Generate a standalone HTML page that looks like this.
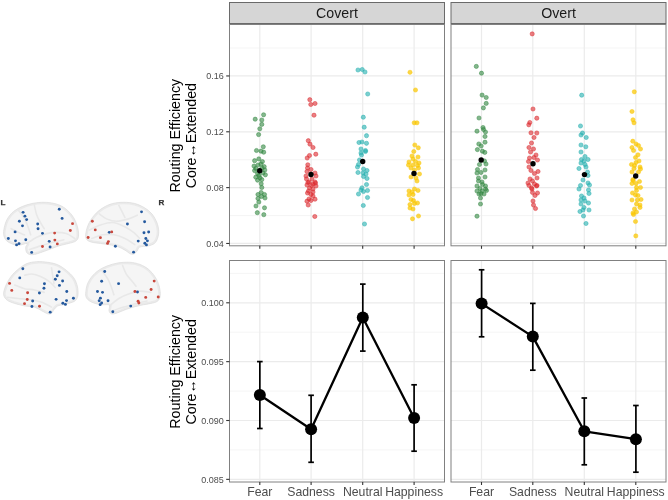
<!DOCTYPE html>
<html><head><meta charset="utf-8"><style>
html,body{margin:0;padding:0;background:#fff;width:668px;height:500px;overflow:hidden;position:relative;font-family:"Liberation Sans", sans-serif;}
</style></head><body>
<svg width="668" height="500" viewBox="0 0 668 500" style="position:absolute;left:0;top:0;will-change:transform">
<rect x="229.5" y="2.5" width="215.0" height="21.0" fill="#D6D6D6" stroke="#6a6a6a" stroke-width="1.0"/>
<text x="337.0" y="17.9" font-family='"Liberation Sans", sans-serif' font-size="14.2" fill="#1A1A1A" text-anchor="middle">Covert</text>
<rect x="229.5" y="24.5" width="215.0" height="221.3" fill="#fff"/>
<line x1="229.5" x2="444.5" y1="215.55" y2="215.55" stroke="#F2F2F2" stroke-width="0.8"/>
<line x1="229.5" x2="444.5" y1="159.71" y2="159.71" stroke="#F2F2F2" stroke-width="0.8"/>
<line x1="229.5" x2="444.5" y1="103.87" y2="103.87" stroke="#F2F2F2" stroke-width="0.8"/>
<line x1="229.5" x2="444.5" y1="48.03" y2="48.03" stroke="#F2F2F2" stroke-width="0.8"/>
<line x1="229.5" x2="444.5" y1="243.47" y2="243.47" stroke="#EBEBEB" stroke-width="1.2"/>
<line x1="229.5" x2="444.5" y1="187.63" y2="187.63" stroke="#EBEBEB" stroke-width="1.2"/>
<line x1="229.5" x2="444.5" y1="131.79" y2="131.79" stroke="#EBEBEB" stroke-width="1.2"/>
<line x1="229.5" x2="444.5" y1="75.95" y2="75.95" stroke="#EBEBEB" stroke-width="1.2"/>
<line x1="259.8" x2="259.8" y1="24.5" y2="245.8" stroke="#EBEBEB" stroke-width="1.2"/>
<line x1="311.1" x2="311.1" y1="24.5" y2="245.8" stroke="#EBEBEB" stroke-width="1.2"/>
<line x1="362.7" x2="362.7" y1="24.5" y2="245.8" stroke="#EBEBEB" stroke-width="1.2"/>
<line x1="414.1" x2="414.1" y1="24.5" y2="245.8" stroke="#EBEBEB" stroke-width="1.2"/>
<g fill="rgb(50,135,65)" fill-opacity="0.6" stroke="rgb(50,135,65)" stroke-opacity="0.6" stroke-width="0.8">
<circle cx="263.6" cy="114.8" r="2.1"/>
<circle cx="255.2" cy="119.2" r="2.1"/>
<circle cx="261.8" cy="120.0" r="2.1"/>
<circle cx="261.8" cy="124.4" r="2.1"/>
<circle cx="259.8" cy="128.8" r="2.1"/>
<circle cx="258.6" cy="134.6" r="2.1"/>
<circle cx="263.3" cy="146.8" r="2.1"/>
<circle cx="256.5" cy="150.5" r="2.1"/>
<circle cx="261" cy="151.2" r="2.1"/>
<circle cx="263.7" cy="152.2" r="2.1"/>
<circle cx="258.8" cy="158.9" r="2.1"/>
<circle cx="254.6" cy="160.7" r="2.1"/>
<circle cx="262.4" cy="161.6" r="2.1"/>
<circle cx="260.9" cy="164" r="2.1"/>
<circle cx="254" cy="166.1" r="2.1"/>
<circle cx="264.2" cy="166.7" r="2.1"/>
<circle cx="255.8" cy="168.5" r="2.1"/>
<circle cx="254.6" cy="170.6" r="2.1"/>
<circle cx="264.8" cy="170" r="2.1"/>
<circle cx="263" cy="173" r="2.1"/>
<circle cx="265.4" cy="174.8" r="2.1"/>
<circle cx="257.6" cy="173.6" r="2.1"/>
<circle cx="255.8" cy="177.2" r="2.1"/>
<circle cx="260" cy="177.8" r="2.1"/>
<circle cx="257.6" cy="180.2" r="2.1"/>
<circle cx="261.8" cy="179.6" r="2.1"/>
<circle cx="261.2" cy="183.8" r="2.1"/>
<circle cx="258" cy="165" r="2.1"/>
<circle cx="262" cy="168" r="2.1"/>
<circle cx="259" cy="175.5" r="2.1"/>
<circle cx="261.8" cy="187.5" r="2.1"/>
<circle cx="258" cy="194.5" r="2.1"/>
<circle cx="261.2" cy="192.5" r="2.1"/>
<circle cx="264.5" cy="194.5" r="2.1"/>
<circle cx="265" cy="198" r="2.1"/>
<circle cx="258" cy="198.5" r="2.1"/>
<circle cx="261.5" cy="196.5" r="2.1"/>
<circle cx="258.8" cy="202" r="2.1"/>
<circle cx="256" cy="206" r="2.1"/>
<circle cx="264.5" cy="207.8" r="2.1"/>
<circle cx="257.3" cy="212.7" r="2.1"/>
<circle cx="263.8" cy="214.7" r="2.1"/>
</g>
<g fill="rgb(220,42,46)" fill-opacity="0.6" stroke="rgb(220,42,46)" stroke-opacity="0.6" stroke-width="0.8">
<circle cx="309.8" cy="99.7" r="2.1"/>
<circle cx="310.8" cy="104.5" r="2.1"/>
<circle cx="315" cy="103.5" r="2.1"/>
<circle cx="314" cy="115.2" r="2.1"/>
<circle cx="308.3" cy="140.7" r="2.1"/>
<circle cx="310" cy="144.2" r="2.1"/>
<circle cx="313" cy="147.5" r="2.1"/>
<circle cx="315.8" cy="154.2" r="2.1"/>
<circle cx="309.5" cy="155.5" r="2.1"/>
<circle cx="307.2" cy="158" r="2.1"/>
<circle cx="307.8" cy="164.8" r="2.1"/>
<circle cx="307.5" cy="168" r="2.1"/>
<circle cx="311" cy="169.5" r="2.1"/>
<circle cx="307" cy="171.5" r="2.1"/>
<circle cx="315" cy="173" r="2.1"/>
<circle cx="306" cy="176" r="2.1"/>
<circle cx="316" cy="176" r="2.1"/>
<circle cx="306.5" cy="179" r="2.1"/>
<circle cx="312" cy="179" r="2.1"/>
<circle cx="309" cy="182" r="2.1"/>
<circle cx="315" cy="182" r="2.1"/>
<circle cx="313" cy="184" r="2.1"/>
<circle cx="308" cy="182.5" r="2.1"/>
<circle cx="315.5" cy="183" r="2.1"/>
<circle cx="307" cy="185" r="2.1"/>
<circle cx="311.5" cy="185.5" r="2.1"/>
<circle cx="316" cy="186" r="2.1"/>
<circle cx="309.5" cy="188" r="2.1"/>
<circle cx="313" cy="189" r="2.1"/>
<circle cx="308.5" cy="191" r="2.1"/>
<circle cx="313" cy="192" r="2.1"/>
<circle cx="307.5" cy="193" r="2.1"/>
<circle cx="311" cy="194.5" r="2.1"/>
<circle cx="313" cy="196" r="2.1"/>
<circle cx="309" cy="199" r="2.1"/>
<circle cx="315" cy="199.2" r="2.1"/>
<circle cx="307" cy="201.2" r="2.1"/>
<circle cx="311" cy="200.5" r="2.1"/>
<circle cx="308.2" cy="205" r="2.1"/>
<circle cx="314.8" cy="216.5" r="2.1"/>
</g>
<g fill="rgb(35,175,175)" fill-opacity="0.6" stroke="rgb(35,175,175)" stroke-opacity="0.6" stroke-width="0.8">
<circle cx="358" cy="70" r="2.1"/>
<circle cx="362.2" cy="69.5" r="2.1"/>
<circle cx="365" cy="72" r="2.1"/>
<circle cx="367.7" cy="94" r="2.1"/>
<circle cx="363.3" cy="117.2" r="2.1"/>
<circle cx="364.2" cy="127.2" r="2.1"/>
<circle cx="366.5" cy="135.7" r="2.1"/>
<circle cx="359" cy="142.5" r="2.1"/>
<circle cx="362" cy="142" r="2.1"/>
<circle cx="366.5" cy="143.3" r="2.1"/>
<circle cx="361" cy="149" r="2.1"/>
<circle cx="365.5" cy="150.5" r="2.1"/>
<circle cx="361" cy="153" r="2.1"/>
<circle cx="365.5" cy="151.5" r="2.1"/>
<circle cx="361.5" cy="155" r="2.1"/>
<circle cx="359.5" cy="160" r="2.1"/>
<circle cx="358.5" cy="164.5" r="2.1"/>
<circle cx="357.5" cy="167" r="2.1"/>
<circle cx="363.5" cy="169" r="2.1"/>
<circle cx="367" cy="170.5" r="2.1"/>
<circle cx="358" cy="172.5" r="2.1"/>
<circle cx="363" cy="173" r="2.1"/>
<circle cx="366" cy="174" r="2.1"/>
<circle cx="363.5" cy="176.5" r="2.1"/>
<circle cx="367" cy="178.5" r="2.1"/>
<circle cx="366.5" cy="184.5" r="2.1"/>
<circle cx="362" cy="187.8" r="2.1"/>
<circle cx="361" cy="190" r="2.1"/>
<circle cx="367.5" cy="190.5" r="2.1"/>
<circle cx="363.5" cy="191.5" r="2.1"/>
<circle cx="358.5" cy="194" r="2.1"/>
<circle cx="367.5" cy="197.5" r="2.1"/>
<circle cx="363.3" cy="205.5" r="2.1"/>
<circle cx="364.5" cy="224" r="2.1"/>
</g>
<g fill="rgb(250,198,0)" fill-opacity="0.72" stroke="rgb(250,198,0)" stroke-opacity="0.6" stroke-width="0.8">
<circle cx="410" cy="72.3" r="2.1"/>
<circle cx="415.5" cy="90" r="2.1"/>
<circle cx="414.2" cy="122.8" r="2.1"/>
<circle cx="417" cy="122.8" r="2.1"/>
<circle cx="414.8" cy="145" r="2.1"/>
<circle cx="418.3" cy="147.8" r="2.1"/>
<circle cx="413.8" cy="151.5" r="2.1"/>
<circle cx="412" cy="156" r="2.1"/>
<circle cx="418" cy="157" r="2.1"/>
<circle cx="413" cy="159" r="2.1"/>
<circle cx="409" cy="162" r="2.1"/>
<circle cx="415.5" cy="161.5" r="2.1"/>
<circle cx="419" cy="163" r="2.1"/>
<circle cx="408.5" cy="165" r="2.1"/>
<circle cx="413" cy="165" r="2.1"/>
<circle cx="417.5" cy="165.5" r="2.1"/>
<circle cx="411" cy="168" r="2.1"/>
<circle cx="418.5" cy="168" r="2.1"/>
<circle cx="414.5" cy="170" r="2.1"/>
<circle cx="419.5" cy="174" r="2.1"/>
<circle cx="411" cy="177" r="2.1"/>
<circle cx="416" cy="178" r="2.1"/>
<circle cx="417" cy="181" r="2.1"/>
<circle cx="414.5" cy="189" r="2.1"/>
<circle cx="409" cy="191" r="2.1"/>
<circle cx="418" cy="190.5" r="2.1"/>
<circle cx="412" cy="192" r="2.1"/>
<circle cx="409" cy="195" r="2.1"/>
<circle cx="413" cy="194.5" r="2.1"/>
<circle cx="411" cy="199.5" r="2.1"/>
<circle cx="413.5" cy="200.5" r="2.1"/>
<circle cx="417.5" cy="203" r="2.1"/>
<circle cx="414.5" cy="203.5" r="2.1"/>
<circle cx="410" cy="204.5" r="2.1"/>
<circle cx="410" cy="208" r="2.1"/>
<circle cx="413" cy="209" r="2.1"/>
<circle cx="418.5" cy="216" r="2.1"/>
<circle cx="412.5" cy="218.8" r="2.1"/>
</g>
<g fill="#000">
<circle cx="259.7" cy="170.7" r="2.7"/>
<circle cx="311" cy="174.5" r="2.7"/>
<circle cx="362.7" cy="161.5" r="2.7"/>
<circle cx="414" cy="173.5" r="2.7"/>
</g>
<rect x="229.5" y="24.5" width="215.0" height="221.3" fill="none" stroke="#808080" stroke-width="1.0"/>
<rect x="229.5" y="260.5" width="215.0" height="221.5" fill="#fff"/>
<line x1="229.5" x2="444.5" y1="449.93" y2="449.93" stroke="#F2F2F2" stroke-width="0.8"/>
<line x1="229.5" x2="444.5" y1="391.08" y2="391.08" stroke="#F2F2F2" stroke-width="0.8"/>
<line x1="229.5" x2="444.5" y1="332.23" y2="332.23" stroke="#F2F2F2" stroke-width="0.8"/>
<line x1="229.5" x2="444.5" y1="273.38" y2="273.38" stroke="#F2F2F2" stroke-width="0.8"/>
<line x1="229.5" x2="444.5" y1="479.35" y2="479.35" stroke="#EBEBEB" stroke-width="1.2"/>
<line x1="229.5" x2="444.5" y1="420.50" y2="420.50" stroke="#EBEBEB" stroke-width="1.2"/>
<line x1="229.5" x2="444.5" y1="361.65" y2="361.65" stroke="#EBEBEB" stroke-width="1.2"/>
<line x1="229.5" x2="444.5" y1="302.80" y2="302.80" stroke="#EBEBEB" stroke-width="1.2"/>
<line x1="259.8" x2="259.8" y1="260.5" y2="482.0" stroke="#EBEBEB" stroke-width="1.2"/>
<line x1="311.1" x2="311.1" y1="260.5" y2="482.0" stroke="#EBEBEB" stroke-width="1.2"/>
<line x1="362.7" x2="362.7" y1="260.5" y2="482.0" stroke="#EBEBEB" stroke-width="1.2"/>
<line x1="414.1" x2="414.1" y1="260.5" y2="482.0" stroke="#EBEBEB" stroke-width="1.2"/>
<g stroke="#000" fill="none" stroke-width="1.7">
<line x1="259.85" x2="259.85" y1="361.6" y2="428.5"/>
<line x1="257.05" x2="262.65000000000003" y1="361.6" y2="361.6"/>
<line x1="257.05" x2="262.65000000000003" y1="428.5" y2="428.5"/>
<line x1="311.1" x2="311.1" y1="395.3" y2="462.3"/>
<line x1="308.3" x2="313.90000000000003" y1="395.3" y2="395.3"/>
<line x1="308.3" x2="313.90000000000003" y1="462.3" y2="462.3"/>
<line x1="362.8" x2="362.8" y1="284.1" y2="351.1"/>
<line x1="360.0" x2="365.6" y1="284.1" y2="284.1"/>
<line x1="360.0" x2="365.6" y1="351.1" y2="351.1"/>
<line x1="414.1" x2="414.1" y1="384.8" y2="451.2"/>
<line x1="411.3" x2="416.90000000000003" y1="384.8" y2="384.8"/>
<line x1="411.3" x2="416.90000000000003" y1="451.2" y2="451.2"/>
</g>
<polyline points="259.85,395.0 311.1,429.3 362.8,317.4 414.1,418.1" fill="none" stroke="#000" stroke-width="2.3" stroke-linejoin="round"/>
<g fill="#000">
<circle cx="259.85" cy="395.0" r="6"/>
<circle cx="311.1" cy="429.3" r="6"/>
<circle cx="362.8" cy="317.4" r="6"/>
<circle cx="414.1" cy="418.1" r="6"/>
</g>
<rect x="229.5" y="260.5" width="215.0" height="221.5" fill="none" stroke="#808080" stroke-width="1.0"/>
<line x1="259.8" x2="259.8" y1="245.8" y2="248.8" stroke="#333" stroke-width="1.1"/>
<line x1="259.8" x2="259.8" y1="482.0" y2="485.0" stroke="#333" stroke-width="1.1"/>
<line x1="311.1" x2="311.1" y1="245.8" y2="248.8" stroke="#333" stroke-width="1.1"/>
<line x1="311.1" x2="311.1" y1="482.0" y2="485.0" stroke="#333" stroke-width="1.1"/>
<line x1="362.7" x2="362.7" y1="245.8" y2="248.8" stroke="#333" stroke-width="1.1"/>
<line x1="362.7" x2="362.7" y1="482.0" y2="485.0" stroke="#333" stroke-width="1.1"/>
<line x1="414.1" x2="414.1" y1="245.8" y2="248.8" stroke="#333" stroke-width="1.1"/>
<line x1="414.1" x2="414.1" y1="482.0" y2="485.0" stroke="#333" stroke-width="1.1"/>
<text x="259.8" y="495.6" font-family='"Liberation Sans", sans-serif' font-size="12.25" fill="#4D4D4D" text-anchor="middle">Fear</text>
<text x="311.1" y="495.6" font-family='"Liberation Sans", sans-serif' font-size="12.25" fill="#4D4D4D" text-anchor="middle">Sadness</text>
<text x="362.7" y="495.6" font-family='"Liberation Sans", sans-serif' font-size="12.25" fill="#4D4D4D" text-anchor="middle">Neutral</text>
<text x="414.1" y="495.6" font-family='"Liberation Sans", sans-serif' font-size="12.25" fill="#4D4D4D" text-anchor="middle">Happiness</text>
<rect x="451.0" y="2.5" width="215.0" height="21.0" fill="#D6D6D6" stroke="#6a6a6a" stroke-width="1.0"/>
<text x="558.5" y="17.9" font-family='"Liberation Sans", sans-serif' font-size="14.2" fill="#1A1A1A" text-anchor="middle">Overt</text>
<rect x="451.0" y="24.5" width="215.0" height="221.3" fill="#fff"/>
<line x1="451.0" x2="666.0" y1="215.55" y2="215.55" stroke="#F2F2F2" stroke-width="0.8"/>
<line x1="451.0" x2="666.0" y1="159.71" y2="159.71" stroke="#F2F2F2" stroke-width="0.8"/>
<line x1="451.0" x2="666.0" y1="103.87" y2="103.87" stroke="#F2F2F2" stroke-width="0.8"/>
<line x1="451.0" x2="666.0" y1="48.03" y2="48.03" stroke="#F2F2F2" stroke-width="0.8"/>
<line x1="451.0" x2="666.0" y1="243.47" y2="243.47" stroke="#EBEBEB" stroke-width="1.2"/>
<line x1="451.0" x2="666.0" y1="187.63" y2="187.63" stroke="#EBEBEB" stroke-width="1.2"/>
<line x1="451.0" x2="666.0" y1="131.79" y2="131.79" stroke="#EBEBEB" stroke-width="1.2"/>
<line x1="451.0" x2="666.0" y1="75.95" y2="75.95" stroke="#EBEBEB" stroke-width="1.2"/>
<line x1="481.5" x2="481.5" y1="24.5" y2="245.8" stroke="#EBEBEB" stroke-width="1.2"/>
<line x1="532.8" x2="532.8" y1="24.5" y2="245.8" stroke="#EBEBEB" stroke-width="1.2"/>
<line x1="584.3" x2="584.3" y1="24.5" y2="245.8" stroke="#EBEBEB" stroke-width="1.2"/>
<line x1="635.8" x2="635.8" y1="24.5" y2="245.8" stroke="#EBEBEB" stroke-width="1.2"/>
<g fill="rgb(50,135,65)" fill-opacity="0.6" stroke="rgb(50,135,65)" stroke-opacity="0.6" stroke-width="0.8">
<circle cx="476.3" cy="66.4" r="2.1"/>
<circle cx="481.5" cy="73.2" r="2.1"/>
<circle cx="482.1" cy="95.1" r="2.1"/>
<circle cx="486.2" cy="97.5" r="2.1"/>
<circle cx="486.2" cy="103.4" r="2.1"/>
<circle cx="483.4" cy="107.9" r="2.1"/>
<circle cx="479" cy="118" r="2.1"/>
<circle cx="483" cy="127.5" r="2.1"/>
<circle cx="483.5" cy="129.5" r="2.1"/>
<circle cx="477" cy="131.2" r="2.1"/>
<circle cx="485.5" cy="132" r="2.1"/>
<circle cx="485" cy="136.5" r="2.1"/>
<circle cx="485" cy="142.2" r="2.1"/>
<circle cx="478.8" cy="144" r="2.1"/>
<circle cx="481.2" cy="146" r="2.1"/>
<circle cx="477.4" cy="149.6" r="2.1"/>
<circle cx="482.4" cy="151.2" r="2.1"/>
<circle cx="484.8" cy="152.4" r="2.1"/>
<circle cx="484.5" cy="161" r="2.1"/>
<circle cx="479.5" cy="164.5" r="2.1"/>
<circle cx="486" cy="164" r="2.1"/>
<circle cx="477.5" cy="169.5" r="2.1"/>
<circle cx="485" cy="170" r="2.1"/>
<circle cx="481" cy="172.5" r="2.1"/>
<circle cx="477" cy="173" r="2.1"/>
<circle cx="485" cy="177" r="2.1"/>
<circle cx="478.5" cy="178" r="2.1"/>
<circle cx="478.5" cy="181" r="2.1"/>
<circle cx="482" cy="182" r="2.1"/>
<circle cx="482.5" cy="184.5" r="2.1"/>
<circle cx="477" cy="186" r="2.1"/>
<circle cx="485.5" cy="186" r="2.1"/>
<circle cx="480" cy="188.5" r="2.1"/>
<circle cx="485.5" cy="189" r="2.1"/>
<circle cx="477" cy="191" r="2.1"/>
<circle cx="482" cy="191" r="2.1"/>
<circle cx="486.5" cy="190.5" r="2.1"/>
<circle cx="479" cy="194" r="2.1"/>
<circle cx="484" cy="194" r="2.1"/>
<circle cx="481" cy="193.5" r="2.1"/>
<circle cx="480.5" cy="198" r="2.1"/>
<circle cx="480.5" cy="204" r="2.1"/>
<circle cx="477" cy="216.2" r="2.1"/>
</g>
<g fill="rgb(220,42,46)" fill-opacity="0.6" stroke="rgb(220,42,46)" stroke-opacity="0.6" stroke-width="0.8">
<circle cx="532.2" cy="33.9" r="2.1"/>
<circle cx="533" cy="109" r="2.1"/>
<circle cx="536.8" cy="118.2" r="2.1"/>
<circle cx="529.8" cy="122.5" r="2.1"/>
<circle cx="528.8" cy="124.8" r="2.1"/>
<circle cx="531" cy="132.8" r="2.1"/>
<circle cx="536.8" cy="133" r="2.1"/>
<circle cx="534" cy="137.5" r="2.1"/>
<circle cx="531.5" cy="143" r="2.1"/>
<circle cx="529" cy="147.5" r="2.1"/>
<circle cx="533.5" cy="149" r="2.1"/>
<circle cx="530.5" cy="152" r="2.1"/>
<circle cx="536" cy="155" r="2.1"/>
<circle cx="529.5" cy="158" r="2.1"/>
<circle cx="534" cy="157.5" r="2.1"/>
<circle cx="537.5" cy="160" r="2.1"/>
<circle cx="528.5" cy="161.5" r="2.1"/>
<circle cx="529" cy="167" r="2.1"/>
<circle cx="531" cy="170.5" r="2.1"/>
<circle cx="538" cy="171.5" r="2.1"/>
<circle cx="534.5" cy="173.5" r="2.1"/>
<circle cx="537" cy="178" r="2.1"/>
<circle cx="530" cy="179" r="2.1"/>
<circle cx="532.5" cy="181" r="2.1"/>
<circle cx="528" cy="183" r="2.1"/>
<circle cx="534.5" cy="184" r="2.1"/>
<circle cx="537" cy="185.5" r="2.1"/>
<circle cx="531.5" cy="188" r="2.1"/>
<circle cx="529" cy="185.5" r="2.1"/>
<circle cx="536.5" cy="186" r="2.1"/>
<circle cx="532" cy="189" r="2.1"/>
<circle cx="532.5" cy="192.5" r="2.1"/>
<circle cx="537.5" cy="193" r="2.1"/>
<circle cx="535" cy="195.5" r="2.1"/>
<circle cx="533" cy="201" r="2.1"/>
<circle cx="533.5" cy="205" r="2.1"/>
<circle cx="535.5" cy="208.5" r="2.1"/>
</g>
<g fill="rgb(35,175,175)" fill-opacity="0.6" stroke="rgb(35,175,175)" stroke-opacity="0.6" stroke-width="0.8">
<circle cx="581.7" cy="95.2" r="2.1"/>
<circle cx="580.5" cy="126" r="2.1"/>
<circle cx="582.5" cy="133" r="2.1"/>
<circle cx="581" cy="135" r="2.1"/>
<circle cx="586.2" cy="137.5" r="2.1"/>
<circle cx="581" cy="145" r="2.1"/>
<circle cx="585.8" cy="146.8" r="2.1"/>
<circle cx="581" cy="152" r="2.1"/>
<circle cx="585" cy="156.5" r="2.1"/>
<circle cx="581.5" cy="159.5" r="2.1"/>
<circle cx="588" cy="159.5" r="2.1"/>
<circle cx="584" cy="161" r="2.1"/>
<circle cx="581" cy="163" r="2.1"/>
<circle cx="585" cy="164.5" r="2.1"/>
<circle cx="586" cy="167" r="2.1"/>
<circle cx="579" cy="168.5" r="2.1"/>
<circle cx="587.5" cy="172" r="2.1"/>
<circle cx="588" cy="175.5" r="2.1"/>
<circle cx="583" cy="180" r="2.1"/>
<circle cx="588" cy="183" r="2.1"/>
<circle cx="589.5" cy="185" r="2.1"/>
<circle cx="580.5" cy="185.5" r="2.1"/>
<circle cx="579" cy="189" r="2.1"/>
<circle cx="588.5" cy="190" r="2.1"/>
<circle cx="589" cy="193.5" r="2.1"/>
<circle cx="581.5" cy="196" r="2.1"/>
<circle cx="584" cy="198" r="2.1"/>
<circle cx="581" cy="200" r="2.1"/>
<circle cx="585" cy="201" r="2.1"/>
<circle cx="588.5" cy="203" r="2.1"/>
<circle cx="581" cy="204" r="2.1"/>
<circle cx="584" cy="207.5" r="2.1"/>
<circle cx="580" cy="211.5" r="2.1"/>
<circle cx="583" cy="210" r="2.1"/>
<circle cx="589" cy="210" r="2.1"/>
<circle cx="583.5" cy="216" r="2.1"/>
<circle cx="586" cy="223.5" r="2.1"/>
</g>
<g fill="rgb(250,198,0)" fill-opacity="0.72" stroke="rgb(250,198,0)" stroke-opacity="0.6" stroke-width="0.8">
<circle cx="634.3" cy="91.8" r="2.1"/>
<circle cx="632" cy="111.5" r="2.1"/>
<circle cx="633" cy="119.8" r="2.1"/>
<circle cx="634" cy="122.8" r="2.1"/>
<circle cx="632.8" cy="141.2" r="2.1"/>
<circle cx="636" cy="144" r="2.1"/>
<circle cx="638.5" cy="145.5" r="2.1"/>
<circle cx="632" cy="147.5" r="2.1"/>
<circle cx="640.5" cy="149" r="2.1"/>
<circle cx="633.5" cy="150.5" r="2.1"/>
<circle cx="638" cy="154.8" r="2.1"/>
<circle cx="635.5" cy="157.5" r="2.1"/>
<circle cx="639" cy="161" r="2.1"/>
<circle cx="636" cy="162.5" r="2.1"/>
<circle cx="631.5" cy="164.5" r="2.1"/>
<circle cx="634.5" cy="165.5" r="2.1"/>
<circle cx="640" cy="167" r="2.1"/>
<circle cx="634" cy="168.5" r="2.1"/>
<circle cx="640.5" cy="169" r="2.1"/>
<circle cx="632" cy="172" r="2.1"/>
<circle cx="638.5" cy="172" r="2.1"/>
<circle cx="633" cy="179.5" r="2.1"/>
<circle cx="633" cy="180.5" r="2.1"/>
<circle cx="639.5" cy="181.5" r="2.1"/>
<circle cx="632" cy="183.5" r="2.1"/>
<circle cx="636" cy="183.5" r="2.1"/>
<circle cx="636.5" cy="187.5" r="2.1"/>
<circle cx="640.5" cy="187.5" r="2.1"/>
<circle cx="636.5" cy="190.5" r="2.1"/>
<circle cx="632.5" cy="193" r="2.1"/>
<circle cx="635.5" cy="195" r="2.1"/>
<circle cx="638" cy="195.5" r="2.1"/>
<circle cx="632" cy="200" r="2.1"/>
<circle cx="637.5" cy="200" r="2.1"/>
<circle cx="641" cy="199.5" r="2.1"/>
<circle cx="636.5" cy="204" r="2.1"/>
<circle cx="640" cy="205" r="2.1"/>
<circle cx="640" cy="207.5" r="2.1"/>
<circle cx="634.5" cy="209" r="2.1"/>
<circle cx="633" cy="213" r="2.1"/>
<circle cx="636.5" cy="212" r="2.1"/>
<circle cx="633.5" cy="214.5" r="2.1"/>
<circle cx="635.5" cy="221.5" r="2.1"/>
<circle cx="635.8" cy="235.9" r="2.1"/>
</g>
<g fill="#000">
<circle cx="481.2" cy="160" r="2.7"/>
<circle cx="533" cy="163.8" r="2.7"/>
<circle cx="584.5" cy="174.6" r="2.7"/>
<circle cx="635.7" cy="176" r="2.7"/>
</g>
<rect x="451.0" y="24.5" width="215.0" height="221.3" fill="none" stroke="#808080" stroke-width="1.0"/>
<rect x="451.0" y="260.5" width="215.0" height="221.5" fill="#fff"/>
<line x1="451.0" x2="666.0" y1="449.93" y2="449.93" stroke="#F2F2F2" stroke-width="0.8"/>
<line x1="451.0" x2="666.0" y1="391.08" y2="391.08" stroke="#F2F2F2" stroke-width="0.8"/>
<line x1="451.0" x2="666.0" y1="332.23" y2="332.23" stroke="#F2F2F2" stroke-width="0.8"/>
<line x1="451.0" x2="666.0" y1="273.38" y2="273.38" stroke="#F2F2F2" stroke-width="0.8"/>
<line x1="451.0" x2="666.0" y1="479.35" y2="479.35" stroke="#EBEBEB" stroke-width="1.2"/>
<line x1="451.0" x2="666.0" y1="420.50" y2="420.50" stroke="#EBEBEB" stroke-width="1.2"/>
<line x1="451.0" x2="666.0" y1="361.65" y2="361.65" stroke="#EBEBEB" stroke-width="1.2"/>
<line x1="451.0" x2="666.0" y1="302.80" y2="302.80" stroke="#EBEBEB" stroke-width="1.2"/>
<line x1="481.5" x2="481.5" y1="260.5" y2="482.0" stroke="#EBEBEB" stroke-width="1.2"/>
<line x1="532.8" x2="532.8" y1="260.5" y2="482.0" stroke="#EBEBEB" stroke-width="1.2"/>
<line x1="584.3" x2="584.3" y1="260.5" y2="482.0" stroke="#EBEBEB" stroke-width="1.2"/>
<line x1="635.8" x2="635.8" y1="260.5" y2="482.0" stroke="#EBEBEB" stroke-width="1.2"/>
<g stroke="#000" fill="none" stroke-width="1.7">
<line x1="481.6" x2="481.6" y1="269.8" y2="336.8"/>
<line x1="478.8" x2="484.40000000000003" y1="269.8" y2="269.8"/>
<line x1="478.8" x2="484.40000000000003" y1="336.8" y2="336.8"/>
<line x1="532.8" x2="532.8" y1="303.4" y2="370.2"/>
<line x1="530.0" x2="535.5999999999999" y1="303.4" y2="303.4"/>
<line x1="530.0" x2="535.5999999999999" y1="370.2" y2="370.2"/>
<line x1="584.3" x2="584.3" y1="398.0" y2="464.8"/>
<line x1="581.5" x2="587.0999999999999" y1="398.0" y2="398.0"/>
<line x1="581.5" x2="587.0999999999999" y1="464.8" y2="464.8"/>
<line x1="635.9" x2="635.9" y1="405.5" y2="472.2"/>
<line x1="633.1" x2="638.6999999999999" y1="405.5" y2="405.5"/>
<line x1="633.1" x2="638.6999999999999" y1="472.2" y2="472.2"/>
</g>
<polyline points="481.6,303.6 532.8,336.6 584.3,431.3 635.9,439.2" fill="none" stroke="#000" stroke-width="2.3" stroke-linejoin="round"/>
<g fill="#000">
<circle cx="481.6" cy="303.6" r="6"/>
<circle cx="532.8" cy="336.6" r="6"/>
<circle cx="584.3" cy="431.3" r="6"/>
<circle cx="635.9" cy="439.2" r="6"/>
</g>
<rect x="451.0" y="260.5" width="215.0" height="221.5" fill="none" stroke="#808080" stroke-width="1.0"/>
<line x1="481.5" x2="481.5" y1="245.8" y2="248.8" stroke="#333" stroke-width="1.1"/>
<line x1="481.5" x2="481.5" y1="482.0" y2="485.0" stroke="#333" stroke-width="1.1"/>
<line x1="532.8" x2="532.8" y1="245.8" y2="248.8" stroke="#333" stroke-width="1.1"/>
<line x1="532.8" x2="532.8" y1="482.0" y2="485.0" stroke="#333" stroke-width="1.1"/>
<line x1="584.3" x2="584.3" y1="245.8" y2="248.8" stroke="#333" stroke-width="1.1"/>
<line x1="584.3" x2="584.3" y1="482.0" y2="485.0" stroke="#333" stroke-width="1.1"/>
<line x1="635.8" x2="635.8" y1="245.8" y2="248.8" stroke="#333" stroke-width="1.1"/>
<line x1="635.8" x2="635.8" y1="482.0" y2="485.0" stroke="#333" stroke-width="1.1"/>
<text x="481.5" y="495.6" font-family='"Liberation Sans", sans-serif' font-size="12.25" fill="#4D4D4D" text-anchor="middle">Fear</text>
<text x="532.8" y="495.6" font-family='"Liberation Sans", sans-serif' font-size="12.25" fill="#4D4D4D" text-anchor="middle">Sadness</text>
<text x="584.3" y="495.6" font-family='"Liberation Sans", sans-serif' font-size="12.25" fill="#4D4D4D" text-anchor="middle">Neutral</text>
<text x="635.8" y="495.6" font-family='"Liberation Sans", sans-serif' font-size="12.25" fill="#4D4D4D" text-anchor="middle">Happiness</text>
<line x1="226.2" x2="229.5" y1="243.47" y2="243.47" stroke="#333" stroke-width="1.1"/>
<text x="223.8" y="246.67" font-family='"Liberation Sans", sans-serif' font-size="9" fill="#4D4D4D" text-anchor="end">0.04</text>
<line x1="226.2" x2="229.5" y1="187.63" y2="187.63" stroke="#333" stroke-width="1.1"/>
<text x="223.8" y="190.83" font-family='"Liberation Sans", sans-serif' font-size="9" fill="#4D4D4D" text-anchor="end">0.08</text>
<line x1="226.2" x2="229.5" y1="131.79" y2="131.79" stroke="#333" stroke-width="1.1"/>
<text x="223.8" y="134.99" font-family='"Liberation Sans", sans-serif' font-size="9" fill="#4D4D4D" text-anchor="end">0.12</text>
<line x1="226.2" x2="229.5" y1="75.95" y2="75.95" stroke="#333" stroke-width="1.1"/>
<text x="223.8" y="79.15" font-family='"Liberation Sans", sans-serif' font-size="9" fill="#4D4D4D" text-anchor="end">0.16</text>
<line x1="226.2" x2="229.5" y1="479.35" y2="479.35" stroke="#333" stroke-width="1.1"/>
<text x="223.8" y="482.55" font-family='"Liberation Sans", sans-serif' font-size="9" fill="#4D4D4D" text-anchor="end">0.085</text>
<line x1="226.2" x2="229.5" y1="420.50" y2="420.50" stroke="#333" stroke-width="1.1"/>
<text x="223.8" y="423.70" font-family='"Liberation Sans", sans-serif' font-size="9" fill="#4D4D4D" text-anchor="end">0.090</text>
<line x1="226.2" x2="229.5" y1="361.65" y2="361.65" stroke="#333" stroke-width="1.1"/>
<text x="223.8" y="364.85" font-family='"Liberation Sans", sans-serif' font-size="9" fill="#4D4D4D" text-anchor="end">0.095</text>
<line x1="226.2" x2="229.5" y1="302.80" y2="302.80" stroke="#333" stroke-width="1.1"/>
<text x="223.8" y="306.00" font-family='"Liberation Sans", sans-serif' font-size="9" fill="#4D4D4D" text-anchor="end">0.100</text>
<g font-family='"Liberation Sans", sans-serif' font-size="14.25" fill="#000" text-anchor="middle">
<text transform="translate(180.1,135.7) rotate(-90)">Routing Efficiency</text>
<text transform="translate(195.5,135.7) rotate(-90)">Core<tspan>↔</tspan>Extended</text>
</g>
<g font-family='"Liberation Sans", sans-serif' font-size="14.25" fill="#000" text-anchor="middle">
<text transform="translate(180.1,371.8) rotate(-90)">Routing Efficiency</text>
<text transform="translate(195.5,371.8) rotate(-90)">Core<tspan>↔</tspan>Extended</text>
</g>
<clipPath id="bc0"><path d="M3.68,234.83 C3.38,232.68 3.68,230.12 4.30,227.46 C4.91,224.80 5.83,221.53 7.37,218.87 C8.90,216.21 11.05,213.55 13.50,211.50 C15.96,209.46 19.03,207.92 22.10,206.59 C25.17,205.26 28.64,204.24 31.92,203.52 C35.19,202.81 38.46,202.40 41.74,202.30 C45.01,202.19 48.49,202.40 51.56,202.91 C54.63,203.42 57.49,204.14 60.15,205.37 C62.81,206.59 65.27,208.23 67.52,210.28 C69.77,212.32 72.02,214.98 73.66,217.64 C75.29,220.30 76.52,223.57 77.34,226.23 C78.16,228.89 78.46,231.55 78.57,233.60 C78.67,235.65 78.57,237.18 77.95,238.51 C77.34,239.84 76.42,240.76 74.88,241.58 C73.35,242.40 71.41,242.70 68.75,243.42 C66.09,244.14 62.20,244.85 58.92,245.88 C55.65,246.90 52.17,248.43 49.10,249.56 C46.03,250.68 42.97,251.81 40.51,252.63 C38.06,253.45 36.21,254.16 34.37,254.47 C32.53,254.78 30.79,254.88 29.46,254.47 C28.13,254.06 27.01,253.24 26.39,252.01 C25.78,250.79 25.68,248.54 25.78,247.10 C25.88,245.67 28.23,243.73 27.01,243.42 C25.78,243.11 21.07,245.26 18.41,245.26 C15.75,245.26 13.09,244.24 11.05,243.42 C9.00,242.60 7.37,241.78 6.14,240.35 C4.91,238.92 3.99,236.98 3.68,234.83Z"/></clipPath>
<path d="M3.68,234.83 C3.38,232.68 3.68,230.12 4.30,227.46 C4.91,224.80 5.83,221.53 7.37,218.87 C8.90,216.21 11.05,213.55 13.50,211.50 C15.96,209.46 19.03,207.92 22.10,206.59 C25.17,205.26 28.64,204.24 31.92,203.52 C35.19,202.81 38.46,202.40 41.74,202.30 C45.01,202.19 48.49,202.40 51.56,202.91 C54.63,203.42 57.49,204.14 60.15,205.37 C62.81,206.59 65.27,208.23 67.52,210.28 C69.77,212.32 72.02,214.98 73.66,217.64 C75.29,220.30 76.52,223.57 77.34,226.23 C78.16,228.89 78.46,231.55 78.57,233.60 C78.67,235.65 78.57,237.18 77.95,238.51 C77.34,239.84 76.42,240.76 74.88,241.58 C73.35,242.40 71.41,242.70 68.75,243.42 C66.09,244.14 62.20,244.85 58.92,245.88 C55.65,246.90 52.17,248.43 49.10,249.56 C46.03,250.68 42.97,251.81 40.51,252.63 C38.06,253.45 36.21,254.16 34.37,254.47 C32.53,254.78 30.79,254.88 29.46,254.47 C28.13,254.06 27.01,253.24 26.39,252.01 C25.78,250.79 25.68,248.54 25.78,247.10 C25.88,245.67 28.23,243.73 27.01,243.42 C25.78,243.11 21.07,245.26 18.41,245.26 C15.75,245.26 13.09,244.24 11.05,243.42 C9.00,242.60 7.37,241.78 6.14,240.35 C4.91,238.92 3.99,236.98 3.68,234.83Z" fill="#F5F5F5"/>
<g clip-path="url(#bc0)">
<path d="M3.68,234.83 C3.38,232.68 3.68,230.12 4.30,227.46 C4.91,224.80 5.83,221.53 7.37,218.87 C8.90,216.21 11.05,213.55 13.50,211.50 C15.96,209.46 19.03,207.92 22.10,206.59 C25.17,205.26 28.64,204.24 31.92,203.52 C35.19,202.81 38.46,202.40 41.74,202.30 C45.01,202.19 48.49,202.40 51.56,202.91 C54.63,203.42 57.49,204.14 60.15,205.37 C62.81,206.59 65.27,208.23 67.52,210.28 C69.77,212.32 72.02,214.98 73.66,217.64 C75.29,220.30 76.52,223.57 77.34,226.23 C78.16,228.89 78.46,231.55 78.57,233.60 C78.67,235.65 78.57,237.18 77.95,238.51 C77.34,239.84 76.42,240.76 74.88,241.58 C73.35,242.40 71.41,242.70 68.75,243.42 C66.09,244.14 62.20,244.85 58.92,245.88 C55.65,246.90 52.17,248.43 49.10,249.56 C46.03,250.68 42.97,251.81 40.51,252.63 C38.06,253.45 36.21,254.16 34.37,254.47 C32.53,254.78 30.79,254.88 29.46,254.47 C28.13,254.06 27.01,253.24 26.39,252.01 C25.78,250.79 25.68,248.54 25.78,247.10 C25.88,245.67 28.23,243.73 27.01,243.42 C25.78,243.11 21.07,245.26 18.41,245.26 C15.75,245.26 13.09,244.24 11.05,243.42 C9.00,242.60 7.37,241.78 6.14,240.35 C4.91,238.92 3.99,236.98 3.68,234.83Z" fill="none" stroke="#EAEAEA" stroke-width="4"/>
<path d="M27.01,243.42 C28.64,242.40 33.55,238.92 36.83,237.28 C40.10,235.65 43.38,234.42 46.65,233.60 C49.92,232.78 53.20,232.37 56.47,232.37 C59.74,232.37 63.22,232.58 66.29,233.60 C69.36,234.62 73.45,237.69 74.88,238.51" fill="none" stroke="#E8E8E8" stroke-width="1.6" stroke-linecap="round"/>
<path d="M29.46,249.56 C31.30,248.95 36.62,247.10 40.51,245.88 C44.40,244.65 48.90,243.22 52.79,242.19 C56.67,241.17 61.99,240.15 63.84,239.74" fill="none" stroke="#E8E8E8" stroke-width="1.6" stroke-linecap="round"/>
<path d="M18.41,210.28 C19.44,211.71 22.92,216.00 24.55,218.87 C26.19,221.73 27.21,224.80 28.23,227.46 C29.26,230.12 30.28,233.60 30.69,234.83" fill="none" stroke="#E8E8E8" stroke-width="1.6" stroke-linecap="round"/>
<path d="M34.37,205.37 C34.78,207.00 35.80,212.32 36.83,215.19 C37.85,218.05 39.28,220.30 40.51,222.55 C41.74,224.80 43.58,227.67 44.19,228.69" fill="none" stroke="#E8E8E8" stroke-width="1.6" stroke-linecap="round"/>
<path d="M11.05,228.69 C12.28,229.30 16.16,231.35 18.41,232.37 C20.66,233.40 23.53,234.42 24.55,234.83" fill="none" stroke="#E8E8E8" stroke-width="1.6" stroke-linecap="round"/>
</g>
<path d="M3.68,234.83 C3.38,232.68 3.68,230.12 4.30,227.46 C4.91,224.80 5.83,221.53 7.37,218.87 C8.90,216.21 11.05,213.55 13.50,211.50 C15.96,209.46 19.03,207.92 22.10,206.59 C25.17,205.26 28.64,204.24 31.92,203.52 C35.19,202.81 38.46,202.40 41.74,202.30 C45.01,202.19 48.49,202.40 51.56,202.91 C54.63,203.42 57.49,204.14 60.15,205.37 C62.81,206.59 65.27,208.23 67.52,210.28 C69.77,212.32 72.02,214.98 73.66,217.64 C75.29,220.30 76.52,223.57 77.34,226.23 C78.16,228.89 78.46,231.55 78.57,233.60 C78.67,235.65 78.57,237.18 77.95,238.51 C77.34,239.84 76.42,240.76 74.88,241.58 C73.35,242.40 71.41,242.70 68.75,243.42 C66.09,244.14 62.20,244.85 58.92,245.88 C55.65,246.90 52.17,248.43 49.10,249.56 C46.03,250.68 42.97,251.81 40.51,252.63 C38.06,253.45 36.21,254.16 34.37,254.47 C32.53,254.78 30.79,254.88 29.46,254.47 C28.13,254.06 27.01,253.24 26.39,252.01 C25.78,250.79 25.68,248.54 25.78,247.10 C25.88,245.67 28.23,243.73 27.01,243.42 C25.78,243.11 21.07,245.26 18.41,245.26 C15.75,245.26 13.09,244.24 11.05,243.42 C9.00,242.60 7.37,241.78 6.14,240.35 C4.91,238.92 3.99,236.98 3.68,234.83Z" fill="none" stroke="#E0E0E0" stroke-width="0.8"/>
<clipPath id="bc1"><path d="M85.68,234.83 C85.89,232.37 86.71,228.28 88.14,225.01 C89.57,221.73 91.82,218.05 94.28,215.19 C96.73,212.32 99.80,209.76 102.87,207.82 C105.94,205.88 109.21,204.44 112.69,203.52 C116.17,202.60 120.06,202.30 123.74,202.30 C127.42,202.30 131.31,202.60 134.79,203.52 C138.26,204.44 141.74,206.08 144.61,207.82 C147.47,209.56 149.93,211.50 151.97,213.96 C154.02,216.41 155.76,219.69 156.88,222.55 C158.01,225.42 158.62,228.49 158.72,231.15 C158.83,233.80 158.21,236.46 157.50,238.51 C156.78,240.56 155.96,242.19 154.43,243.42 C152.89,244.65 150.75,245.26 148.29,245.88 C145.84,246.49 141.54,246.29 139.70,247.10 C137.86,247.92 138.16,249.66 137.24,250.79 C136.32,251.91 135.30,253.34 134.17,253.86 C133.05,254.37 132.02,254.47 130.49,253.86 C128.96,253.24 127.11,251.40 124.97,250.17 C122.82,248.95 120.26,247.41 117.60,246.49 C114.94,245.57 111.87,245.16 109.01,244.65 C106.14,244.14 103.28,243.83 100.41,243.42 C97.55,243.01 94.07,242.81 91.82,242.19 C89.57,241.58 87.93,240.97 86.91,239.74 C85.89,238.51 85.48,237.28 85.68,234.83Z"/></clipPath>
<path d="M85.68,234.83 C85.89,232.37 86.71,228.28 88.14,225.01 C89.57,221.73 91.82,218.05 94.28,215.19 C96.73,212.32 99.80,209.76 102.87,207.82 C105.94,205.88 109.21,204.44 112.69,203.52 C116.17,202.60 120.06,202.30 123.74,202.30 C127.42,202.30 131.31,202.60 134.79,203.52 C138.26,204.44 141.74,206.08 144.61,207.82 C147.47,209.56 149.93,211.50 151.97,213.96 C154.02,216.41 155.76,219.69 156.88,222.55 C158.01,225.42 158.62,228.49 158.72,231.15 C158.83,233.80 158.21,236.46 157.50,238.51 C156.78,240.56 155.96,242.19 154.43,243.42 C152.89,244.65 150.75,245.26 148.29,245.88 C145.84,246.49 141.54,246.29 139.70,247.10 C137.86,247.92 138.16,249.66 137.24,250.79 C136.32,251.91 135.30,253.34 134.17,253.86 C133.05,254.37 132.02,254.47 130.49,253.86 C128.96,253.24 127.11,251.40 124.97,250.17 C122.82,248.95 120.26,247.41 117.60,246.49 C114.94,245.57 111.87,245.16 109.01,244.65 C106.14,244.14 103.28,243.83 100.41,243.42 C97.55,243.01 94.07,242.81 91.82,242.19 C89.57,241.58 87.93,240.97 86.91,239.74 C85.89,238.51 85.48,237.28 85.68,234.83Z" fill="#F5F5F5"/>
<g clip-path="url(#bc1)">
<path d="M85.68,234.83 C85.89,232.37 86.71,228.28 88.14,225.01 C89.57,221.73 91.82,218.05 94.28,215.19 C96.73,212.32 99.80,209.76 102.87,207.82 C105.94,205.88 109.21,204.44 112.69,203.52 C116.17,202.60 120.06,202.30 123.74,202.30 C127.42,202.30 131.31,202.60 134.79,203.52 C138.26,204.44 141.74,206.08 144.61,207.82 C147.47,209.56 149.93,211.50 151.97,213.96 C154.02,216.41 155.76,219.69 156.88,222.55 C158.01,225.42 158.62,228.49 158.72,231.15 C158.83,233.80 158.21,236.46 157.50,238.51 C156.78,240.56 155.96,242.19 154.43,243.42 C152.89,244.65 150.75,245.26 148.29,245.88 C145.84,246.49 141.54,246.29 139.70,247.10 C137.86,247.92 138.16,249.66 137.24,250.79 C136.32,251.91 135.30,253.34 134.17,253.86 C133.05,254.37 132.02,254.47 130.49,253.86 C128.96,253.24 127.11,251.40 124.97,250.17 C122.82,248.95 120.26,247.41 117.60,246.49 C114.94,245.57 111.87,245.16 109.01,244.65 C106.14,244.14 103.28,243.83 100.41,243.42 C97.55,243.01 94.07,242.81 91.82,242.19 C89.57,241.58 87.93,240.97 86.91,239.74 C85.89,238.51 85.48,237.28 85.68,234.83Z" fill="none" stroke="#EAEAEA" stroke-width="4"/>
<path d="M91.82,238.51 C93.66,237.90 99.19,235.44 102.87,234.83 C106.55,234.21 110.23,234.21 113.92,234.83 C117.60,235.44 121.49,236.87 124.97,238.51 C128.44,240.15 133.15,243.63 134.79,244.65" fill="none" stroke="#E8E8E8" stroke-width="1.6" stroke-linecap="round"/>
<path d="M89.37,229.92 C91.21,229.10 96.53,226.23 100.41,225.01 C104.30,223.78 108.80,222.35 112.69,222.55 C116.58,222.76 120.26,224.60 123.74,226.23 C127.22,227.87 130.90,230.33 133.56,232.37 C136.22,234.42 138.67,237.49 139.70,238.51" fill="none" stroke="#E8E8E8" stroke-width="1.6" stroke-linecap="round"/>
<path d="M99.19,213.96 C100.41,214.78 103.69,217.64 106.55,218.87 C109.42,220.10 112.69,221.32 116.37,221.32 C120.06,221.32 125.17,219.89 128.65,218.87 C132.13,217.85 135.81,215.80 137.24,215.19" fill="none" stroke="#E8E8E8" stroke-width="1.6" stroke-linecap="round"/>
<path d="M118.83,205.37 C119.44,206.59 121.49,210.69 122.51,212.73 C123.53,214.78 124.56,216.82 124.97,217.64" fill="none" stroke="#E8E8E8" stroke-width="1.6" stroke-linecap="round"/>
</g>
<path d="M85.68,234.83 C85.89,232.37 86.71,228.28 88.14,225.01 C89.57,221.73 91.82,218.05 94.28,215.19 C96.73,212.32 99.80,209.76 102.87,207.82 C105.94,205.88 109.21,204.44 112.69,203.52 C116.17,202.60 120.06,202.30 123.74,202.30 C127.42,202.30 131.31,202.60 134.79,203.52 C138.26,204.44 141.74,206.08 144.61,207.82 C147.47,209.56 149.93,211.50 151.97,213.96 C154.02,216.41 155.76,219.69 156.88,222.55 C158.01,225.42 158.62,228.49 158.72,231.15 C158.83,233.80 158.21,236.46 157.50,238.51 C156.78,240.56 155.96,242.19 154.43,243.42 C152.89,244.65 150.75,245.26 148.29,245.88 C145.84,246.49 141.54,246.29 139.70,247.10 C137.86,247.92 138.16,249.66 137.24,250.79 C136.32,251.91 135.30,253.34 134.17,253.86 C133.05,254.37 132.02,254.47 130.49,253.86 C128.96,253.24 127.11,251.40 124.97,250.17 C122.82,248.95 120.26,247.41 117.60,246.49 C114.94,245.57 111.87,245.16 109.01,244.65 C106.14,244.14 103.28,243.83 100.41,243.42 C97.55,243.01 94.07,242.81 91.82,242.19 C89.57,241.58 87.93,240.97 86.91,239.74 C85.89,238.51 85.48,237.28 85.68,234.83Z" fill="none" stroke="#E0E0E0" stroke-width="0.8"/>
<clipPath id="bc2"><path d="M3.68,294.83 C3.38,292.47 4.30,289.30 5.52,286.23 C6.75,283.17 8.90,279.28 11.05,276.41 C13.20,273.55 15.75,271.20 18.41,269.05 C21.07,266.90 23.94,264.75 27.01,263.52 C30.08,262.30 33.35,261.89 36.83,261.68 C40.31,261.48 44.40,261.79 47.88,262.30 C51.35,262.81 54.63,263.42 57.70,264.75 C60.77,266.08 63.63,268.13 66.29,270.28 C68.95,272.42 71.81,274.98 73.66,277.64 C75.50,280.30 76.62,283.37 77.34,286.23 C78.05,289.10 78.16,292.58 77.95,294.83 C77.75,297.08 77.03,298.51 76.11,299.74 C75.19,300.97 74.47,301.38 72.43,302.19 C70.38,303.01 66.29,304.03 63.84,304.65 C61.38,305.26 59.33,305.06 57.70,305.88 C56.06,306.69 55.04,308.33 54.01,309.56 C52.99,310.79 52.58,312.53 51.56,313.24 C50.54,313.96 49.51,314.26 47.88,313.86 C46.24,313.45 43.99,311.91 41.74,310.79 C39.49,309.66 37.24,307.92 34.37,307.10 C31.51,306.29 27.83,306.49 24.55,305.88 C21.28,305.26 17.60,304.34 14.73,303.42 C11.87,302.50 9.21,301.78 7.37,300.35 C5.52,298.92 3.99,297.18 3.68,294.83Z"/></clipPath>
<path d="M3.68,294.83 C3.38,292.47 4.30,289.30 5.52,286.23 C6.75,283.17 8.90,279.28 11.05,276.41 C13.20,273.55 15.75,271.20 18.41,269.05 C21.07,266.90 23.94,264.75 27.01,263.52 C30.08,262.30 33.35,261.89 36.83,261.68 C40.31,261.48 44.40,261.79 47.88,262.30 C51.35,262.81 54.63,263.42 57.70,264.75 C60.77,266.08 63.63,268.13 66.29,270.28 C68.95,272.42 71.81,274.98 73.66,277.64 C75.50,280.30 76.62,283.37 77.34,286.23 C78.05,289.10 78.16,292.58 77.95,294.83 C77.75,297.08 77.03,298.51 76.11,299.74 C75.19,300.97 74.47,301.38 72.43,302.19 C70.38,303.01 66.29,304.03 63.84,304.65 C61.38,305.26 59.33,305.06 57.70,305.88 C56.06,306.69 55.04,308.33 54.01,309.56 C52.99,310.79 52.58,312.53 51.56,313.24 C50.54,313.96 49.51,314.26 47.88,313.86 C46.24,313.45 43.99,311.91 41.74,310.79 C39.49,309.66 37.24,307.92 34.37,307.10 C31.51,306.29 27.83,306.49 24.55,305.88 C21.28,305.26 17.60,304.34 14.73,303.42 C11.87,302.50 9.21,301.78 7.37,300.35 C5.52,298.92 3.99,297.18 3.68,294.83Z" fill="#F5F5F5"/>
<g clip-path="url(#bc2)">
<path d="M3.68,294.83 C3.38,292.47 4.30,289.30 5.52,286.23 C6.75,283.17 8.90,279.28 11.05,276.41 C13.20,273.55 15.75,271.20 18.41,269.05 C21.07,266.90 23.94,264.75 27.01,263.52 C30.08,262.30 33.35,261.89 36.83,261.68 C40.31,261.48 44.40,261.79 47.88,262.30 C51.35,262.81 54.63,263.42 57.70,264.75 C60.77,266.08 63.63,268.13 66.29,270.28 C68.95,272.42 71.81,274.98 73.66,277.64 C75.50,280.30 76.62,283.37 77.34,286.23 C78.05,289.10 78.16,292.58 77.95,294.83 C77.75,297.08 77.03,298.51 76.11,299.74 C75.19,300.97 74.47,301.38 72.43,302.19 C70.38,303.01 66.29,304.03 63.84,304.65 C61.38,305.26 59.33,305.06 57.70,305.88 C56.06,306.69 55.04,308.33 54.01,309.56 C52.99,310.79 52.58,312.53 51.56,313.24 C50.54,313.96 49.51,314.26 47.88,313.86 C46.24,313.45 43.99,311.91 41.74,310.79 C39.49,309.66 37.24,307.92 34.37,307.10 C31.51,306.29 27.83,306.49 24.55,305.88 C21.28,305.26 17.60,304.34 14.73,303.42 C11.87,302.50 9.21,301.78 7.37,300.35 C5.52,298.92 3.99,297.18 3.68,294.83Z" fill="none" stroke="#EAEAEA" stroke-width="4"/>
<path d="M7.37,297.28 C9.21,297.49 14.53,298.10 18.41,298.51 C22.30,298.92 26.80,299.12 30.69,299.74 C34.58,300.35 38.26,300.97 41.74,302.19 C45.22,303.42 49.92,306.29 51.56,307.10" fill="none" stroke="#E8E8E8" stroke-width="1.6" stroke-linecap="round"/>
<path d="M24.55,275.19 C25.78,274.98 29.26,273.75 31.92,273.96 C34.58,274.16 37.65,275.19 40.51,276.41 C43.38,277.64 46.65,279.48 49.10,281.32 C51.56,283.17 54.22,286.44 55.24,287.46" fill="none" stroke="#E8E8E8" stroke-width="1.6" stroke-linecap="round"/>
<path d="M14.73,285.01 C16.37,285.62 21.28,287.87 24.55,288.69 C27.83,289.51 31.10,289.30 34.37,289.92 C37.65,290.53 42.56,291.96 44.19,292.37" fill="none" stroke="#E8E8E8" stroke-width="1.6" stroke-linecap="round"/>
<path d="M51.56,267.82 C51.76,269.25 52.38,273.75 52.79,276.41 C53.20,279.07 53.81,282.55 54.01,283.78" fill="none" stroke="#E8E8E8" stroke-width="1.6" stroke-linecap="round"/>
</g>
<path d="M3.68,294.83 C3.38,292.47 4.30,289.30 5.52,286.23 C6.75,283.17 8.90,279.28 11.05,276.41 C13.20,273.55 15.75,271.20 18.41,269.05 C21.07,266.90 23.94,264.75 27.01,263.52 C30.08,262.30 33.35,261.89 36.83,261.68 C40.31,261.48 44.40,261.79 47.88,262.30 C51.35,262.81 54.63,263.42 57.70,264.75 C60.77,266.08 63.63,268.13 66.29,270.28 C68.95,272.42 71.81,274.98 73.66,277.64 C75.50,280.30 76.62,283.37 77.34,286.23 C78.05,289.10 78.16,292.58 77.95,294.83 C77.75,297.08 77.03,298.51 76.11,299.74 C75.19,300.97 74.47,301.38 72.43,302.19 C70.38,303.01 66.29,304.03 63.84,304.65 C61.38,305.26 59.33,305.06 57.70,305.88 C56.06,306.69 55.04,308.33 54.01,309.56 C52.99,310.79 52.58,312.53 51.56,313.24 C50.54,313.96 49.51,314.26 47.88,313.86 C46.24,313.45 43.99,311.91 41.74,310.79 C39.49,309.66 37.24,307.92 34.37,307.10 C31.51,306.29 27.83,306.49 24.55,305.88 C21.28,305.26 17.60,304.34 14.73,303.42 C11.87,302.50 9.21,301.78 7.37,300.35 C5.52,298.92 3.99,297.18 3.68,294.83Z" fill="none" stroke="#E0E0E0" stroke-width="0.8"/>
<clipPath id="bc3"><path d="M85.68,293.60 C85.79,291.15 86.30,286.85 87.52,283.78 C88.75,280.71 90.70,277.74 93.05,275.19 C95.40,272.63 98.37,270.28 101.64,268.43 C104.92,266.59 109.01,265.16 112.69,264.14 C116.37,263.11 120.06,262.50 123.74,262.30 C127.42,262.09 131.31,262.19 134.79,262.91 C138.26,263.63 141.74,264.96 144.61,266.59 C147.47,268.23 149.82,270.28 151.97,272.73 C154.12,275.19 156.17,278.46 157.50,281.32 C158.83,284.19 159.54,287.26 159.95,289.92 C160.36,292.58 160.46,295.34 159.95,297.28 C159.44,299.23 158.42,300.56 156.88,301.58 C155.35,302.60 153.41,302.81 150.75,303.42 C148.09,304.03 144.20,304.55 140.92,305.26 C137.65,305.98 134.17,306.80 131.10,307.72 C128.03,308.64 124.97,309.87 122.51,310.79 C120.06,311.71 118.21,312.73 116.37,313.24 C114.53,313.75 112.69,314.26 111.46,313.86 C110.23,313.45 109.31,312.12 109.01,310.79 C108.70,309.46 109.83,306.90 109.62,305.88 C109.42,304.85 109.31,304.85 107.78,304.65 C106.25,304.44 103.07,305.06 100.41,304.65 C97.75,304.24 94.07,303.22 91.82,302.19 C89.57,301.17 87.93,299.94 86.91,298.51 C85.89,297.08 85.58,296.06 85.68,293.60Z"/></clipPath>
<path d="M85.68,293.60 C85.79,291.15 86.30,286.85 87.52,283.78 C88.75,280.71 90.70,277.74 93.05,275.19 C95.40,272.63 98.37,270.28 101.64,268.43 C104.92,266.59 109.01,265.16 112.69,264.14 C116.37,263.11 120.06,262.50 123.74,262.30 C127.42,262.09 131.31,262.19 134.79,262.91 C138.26,263.63 141.74,264.96 144.61,266.59 C147.47,268.23 149.82,270.28 151.97,272.73 C154.12,275.19 156.17,278.46 157.50,281.32 C158.83,284.19 159.54,287.26 159.95,289.92 C160.36,292.58 160.46,295.34 159.95,297.28 C159.44,299.23 158.42,300.56 156.88,301.58 C155.35,302.60 153.41,302.81 150.75,303.42 C148.09,304.03 144.20,304.55 140.92,305.26 C137.65,305.98 134.17,306.80 131.10,307.72 C128.03,308.64 124.97,309.87 122.51,310.79 C120.06,311.71 118.21,312.73 116.37,313.24 C114.53,313.75 112.69,314.26 111.46,313.86 C110.23,313.45 109.31,312.12 109.01,310.79 C108.70,309.46 109.83,306.90 109.62,305.88 C109.42,304.85 109.31,304.85 107.78,304.65 C106.25,304.44 103.07,305.06 100.41,304.65 C97.75,304.24 94.07,303.22 91.82,302.19 C89.57,301.17 87.93,299.94 86.91,298.51 C85.89,297.08 85.58,296.06 85.68,293.60Z" fill="#F5F5F5"/>
<g clip-path="url(#bc3)">
<path d="M85.68,293.60 C85.79,291.15 86.30,286.85 87.52,283.78 C88.75,280.71 90.70,277.74 93.05,275.19 C95.40,272.63 98.37,270.28 101.64,268.43 C104.92,266.59 109.01,265.16 112.69,264.14 C116.37,263.11 120.06,262.50 123.74,262.30 C127.42,262.09 131.31,262.19 134.79,262.91 C138.26,263.63 141.74,264.96 144.61,266.59 C147.47,268.23 149.82,270.28 151.97,272.73 C154.12,275.19 156.17,278.46 157.50,281.32 C158.83,284.19 159.54,287.26 159.95,289.92 C160.36,292.58 160.46,295.34 159.95,297.28 C159.44,299.23 158.42,300.56 156.88,301.58 C155.35,302.60 153.41,302.81 150.75,303.42 C148.09,304.03 144.20,304.55 140.92,305.26 C137.65,305.98 134.17,306.80 131.10,307.72 C128.03,308.64 124.97,309.87 122.51,310.79 C120.06,311.71 118.21,312.73 116.37,313.24 C114.53,313.75 112.69,314.26 111.46,313.86 C110.23,313.45 109.31,312.12 109.01,310.79 C108.70,309.46 109.83,306.90 109.62,305.88 C109.42,304.85 109.31,304.85 107.78,304.65 C106.25,304.44 103.07,305.06 100.41,304.65 C97.75,304.24 94.07,303.22 91.82,302.19 C89.57,301.17 87.93,299.94 86.91,298.51 C85.89,297.08 85.58,296.06 85.68,293.60Z" fill="none" stroke="#EAEAEA" stroke-width="4"/>
<path d="M109.62,305.88 C111.16,304.65 115.45,300.56 118.83,298.51 C122.20,296.46 126.40,294.83 129.88,293.60 C133.35,292.37 136.22,291.35 139.70,291.15 C143.18,290.94 148.90,292.17 150.75,292.37" fill="none" stroke="#E8E8E8" stroke-width="1.6" stroke-linecap="round"/>
<path d="M112.69,310.79 C114.53,310.17 119.85,308.33 123.74,307.10 C127.63,305.88 132.13,304.44 136.01,303.42 C139.90,302.40 145.22,301.38 147.06,300.97" fill="none" stroke="#E8E8E8" stroke-width="1.6" stroke-linecap="round"/>
<path d="M101.64,270.28 C102.66,271.71 106.14,276.00 107.78,278.87 C109.42,281.73 110.44,284.80 111.46,287.46 C112.49,290.12 113.51,293.60 113.92,294.83" fill="none" stroke="#E8E8E8" stroke-width="1.6" stroke-linecap="round"/>
<path d="M122.51,265.37 C123.12,266.80 124.76,271.50 126.19,273.96 C127.63,276.41 129.47,278.05 131.10,280.10 C132.74,282.14 135.20,285.21 136.01,286.23" fill="none" stroke="#E8E8E8" stroke-width="1.6" stroke-linecap="round"/>
</g>
<path d="M85.68,293.60 C85.79,291.15 86.30,286.85 87.52,283.78 C88.75,280.71 90.70,277.74 93.05,275.19 C95.40,272.63 98.37,270.28 101.64,268.43 C104.92,266.59 109.01,265.16 112.69,264.14 C116.37,263.11 120.06,262.50 123.74,262.30 C127.42,262.09 131.31,262.19 134.79,262.91 C138.26,263.63 141.74,264.96 144.61,266.59 C147.47,268.23 149.82,270.28 151.97,272.73 C154.12,275.19 156.17,278.46 157.50,281.32 C158.83,284.19 159.54,287.26 159.95,289.92 C160.36,292.58 160.46,295.34 159.95,297.28 C159.44,299.23 158.42,300.56 156.88,301.58 C155.35,302.60 153.41,302.81 150.75,303.42 C148.09,304.03 144.20,304.55 140.92,305.26 C137.65,305.98 134.17,306.80 131.10,307.72 C128.03,308.64 124.97,309.87 122.51,310.79 C120.06,311.71 118.21,312.73 116.37,313.24 C114.53,313.75 112.69,314.26 111.46,313.86 C110.23,313.45 109.31,312.12 109.01,310.79 C108.70,309.46 109.83,306.90 109.62,305.88 C109.42,304.85 109.31,304.85 107.78,304.65 C106.25,304.44 103.07,305.06 100.41,304.65 C97.75,304.24 94.07,303.22 91.82,302.19 C89.57,301.17 87.93,299.94 86.91,298.51 C85.89,297.08 85.58,296.06 85.68,293.60Z" fill="none" stroke="#E0E0E0" stroke-width="0.8"/>
<circle cx="23.08" cy="212.36" r="1.45" fill="#24599E"/>
<circle cx="24.92" cy="216.17" r="1.45" fill="#24599E"/>
<circle cx="26.64" cy="219.61" r="1.45" fill="#24599E"/>
<circle cx="19.40" cy="221.32" r="1.45" fill="#24599E"/>
<circle cx="22.47" cy="225.87" r="1.45" fill="#24599E"/>
<circle cx="37.69" cy="224.03" r="1.45" fill="#24599E"/>
<circle cx="38.06" cy="228.69" r="1.45" fill="#24599E"/>
<circle cx="15.10" cy="231.88" r="1.45" fill="#24599E"/>
<circle cx="59.29" cy="209.29" r="1.45" fill="#24599E"/>
<circle cx="62.12" cy="218.38" r="1.45" fill="#24599E"/>
<circle cx="42.47" cy="233.35" r="1.45" fill="#24599E"/>
<circle cx="8.35" cy="238.51" r="1.45" fill="#24599E"/>
<circle cx="15.47" cy="240.84" r="1.45" fill="#24599E"/>
<circle cx="25.78" cy="239.74" r="1.45" fill="#24599E"/>
<circle cx="16.57" cy="244.89" r="1.45" fill="#24599E"/>
<circle cx="19.03" cy="243.67" r="1.45" fill="#24599E"/>
<circle cx="49.23" cy="241.33" r="1.45" fill="#24599E"/>
<circle cx="50.09" cy="246.98" r="1.45" fill="#24599E"/>
<circle cx="31.67" cy="252.38" r="1.45" fill="#24599E"/>
<circle cx="72.55" cy="223.66" r="1.45" fill="#C9473C"/>
<circle cx="70.34" cy="230.53" r="1.45" fill="#C9473C"/>
<circle cx="54.63" cy="233.11" r="1.45" fill="#C9473C"/>
<circle cx="54.87" cy="240.11" r="1.45" fill="#C9473C"/>
<circle cx="57.33" cy="243.91" r="1.45" fill="#C9473C"/>
<circle cx="42.47" cy="246.49" r="1.45" fill="#C9473C"/>
<circle cx="141.54" cy="211.87" r="1.45" fill="#24599E"/>
<circle cx="144.61" cy="221.69" r="1.45" fill="#24599E"/>
<circle cx="127.42" cy="224.03" r="1.45" fill="#24599E"/>
<circle cx="109.25" cy="232.37" r="1.45" fill="#24599E"/>
<circle cx="143.99" cy="232.74" r="1.45" fill="#24599E"/>
<circle cx="148.66" cy="232.00" r="1.45" fill="#24599E"/>
<circle cx="145.84" cy="238.51" r="1.45" fill="#24599E"/>
<circle cx="147.43" cy="240.84" r="1.45" fill="#24599E"/>
<circle cx="138.22" cy="241.09" r="1.45" fill="#24599E"/>
<circle cx="144.85" cy="243.18" r="1.45" fill="#24599E"/>
<circle cx="146.45" cy="244.89" r="1.45" fill="#24599E"/>
<circle cx="115.39" cy="246.24" r="1.45" fill="#24599E"/>
<circle cx="133.56" cy="252.14" r="1.45" fill="#24599E"/>
<circle cx="92.31" cy="221.32" r="1.45" fill="#C9473C"/>
<circle cx="95.26" cy="229.92" r="1.45" fill="#C9473C"/>
<circle cx="88.14" cy="237.53" r="1.45" fill="#C9473C"/>
<circle cx="100.41" cy="237.65" r="1.45" fill="#C9473C"/>
<circle cx="111.71" cy="231.88" r="1.45" fill="#C9473C"/>
<circle cx="108.39" cy="241.58" r="1.45" fill="#C9473C"/>
<circle cx="107.53" cy="243.42" r="1.45" fill="#C9473C"/>
<circle cx="22.83" cy="268.80" r="1.45" fill="#24599E"/>
<circle cx="19.76" cy="277.89" r="1.45" fill="#24599E"/>
<circle cx="44.44" cy="283.78" r="1.45" fill="#24599E"/>
<circle cx="43.95" cy="288.32" r="1.45" fill="#24599E"/>
<circle cx="39.41" cy="292.99" r="1.45" fill="#24599E"/>
<circle cx="59.05" cy="271.87" r="1.45" fill="#24599E"/>
<circle cx="57.21" cy="275.80" r="1.45" fill="#24599E"/>
<circle cx="55.36" cy="279.24" r="1.45" fill="#24599E"/>
<circle cx="62.61" cy="280.96" r="1.45" fill="#24599E"/>
<circle cx="59.42" cy="285.38" r="1.45" fill="#24599E"/>
<circle cx="66.78" cy="291.51" r="1.45" fill="#24599E"/>
<circle cx="73.41" cy="298.27" r="1.45" fill="#24599E"/>
<circle cx="56.10" cy="299.37" r="1.45" fill="#24599E"/>
<circle cx="66.54" cy="300.60" r="1.45" fill="#24599E"/>
<circle cx="62.85" cy="303.18" r="1.45" fill="#24599E"/>
<circle cx="65.43" cy="304.40" r="1.45" fill="#24599E"/>
<circle cx="32.65" cy="300.97" r="1.45" fill="#24599E"/>
<circle cx="31.92" cy="306.49" r="1.45" fill="#24599E"/>
<circle cx="50.21" cy="312.14" r="1.45" fill="#24599E"/>
<circle cx="9.58" cy="283.41" r="1.45" fill="#C9473C"/>
<circle cx="11.78" cy="290.41" r="1.45" fill="#C9473C"/>
<circle cx="27.62" cy="292.74" r="1.45" fill="#C9473C"/>
<circle cx="27.25" cy="299.49" r="1.45" fill="#C9473C"/>
<circle cx="24.55" cy="303.67" r="1.45" fill="#C9473C"/>
<circle cx="39.53" cy="306.24" r="1.45" fill="#C9473C"/>
<circle cx="104.71" cy="271.50" r="1.45" fill="#24599E"/>
<circle cx="101.64" cy="281.32" r="1.45" fill="#24599E"/>
<circle cx="118.58" cy="283.66" r="1.45" fill="#24599E"/>
<circle cx="97.47" cy="291.51" r="1.45" fill="#24599E"/>
<circle cx="102.50" cy="292.37" r="1.45" fill="#24599E"/>
<circle cx="100.41" cy="298.14" r="1.45" fill="#24599E"/>
<circle cx="99.19" cy="300.72" r="1.45" fill="#24599E"/>
<circle cx="108.03" cy="300.72" r="1.45" fill="#24599E"/>
<circle cx="101.64" cy="302.93" r="1.45" fill="#24599E"/>
<circle cx="100.17" cy="304.65" r="1.45" fill="#24599E"/>
<circle cx="137.49" cy="292.00" r="1.45" fill="#24599E"/>
<circle cx="130.74" cy="306.12" r="1.45" fill="#24599E"/>
<circle cx="112.81" cy="311.77" r="1.45" fill="#24599E"/>
<circle cx="154.18" cy="281.08" r="1.45" fill="#C9473C"/>
<circle cx="151.11" cy="289.43" r="1.45" fill="#C9473C"/>
<circle cx="134.91" cy="291.51" r="1.45" fill="#C9473C"/>
<circle cx="145.71" cy="297.41" r="1.45" fill="#C9473C"/>
<circle cx="158.23" cy="297.04" r="1.45" fill="#C9473C"/>
<circle cx="138.10" cy="301.21" r="1.45" fill="#C9473C"/>
<circle cx="138.84" cy="303.05" r="1.45" fill="#C9473C"/>
<text x="0.6" y="204.8" font-family='"Liberation Sans", sans-serif' font-weight="bold" font-size="8.1" fill="#333" stroke="#333" stroke-width="0.25">L</text>
<text x="158.4" y="204.8" font-family='"Liberation Sans", sans-serif' font-weight="bold" font-size="8.1" fill="#333" stroke="#333" stroke-width="0.25">R</text>
</svg>
</body></html>
